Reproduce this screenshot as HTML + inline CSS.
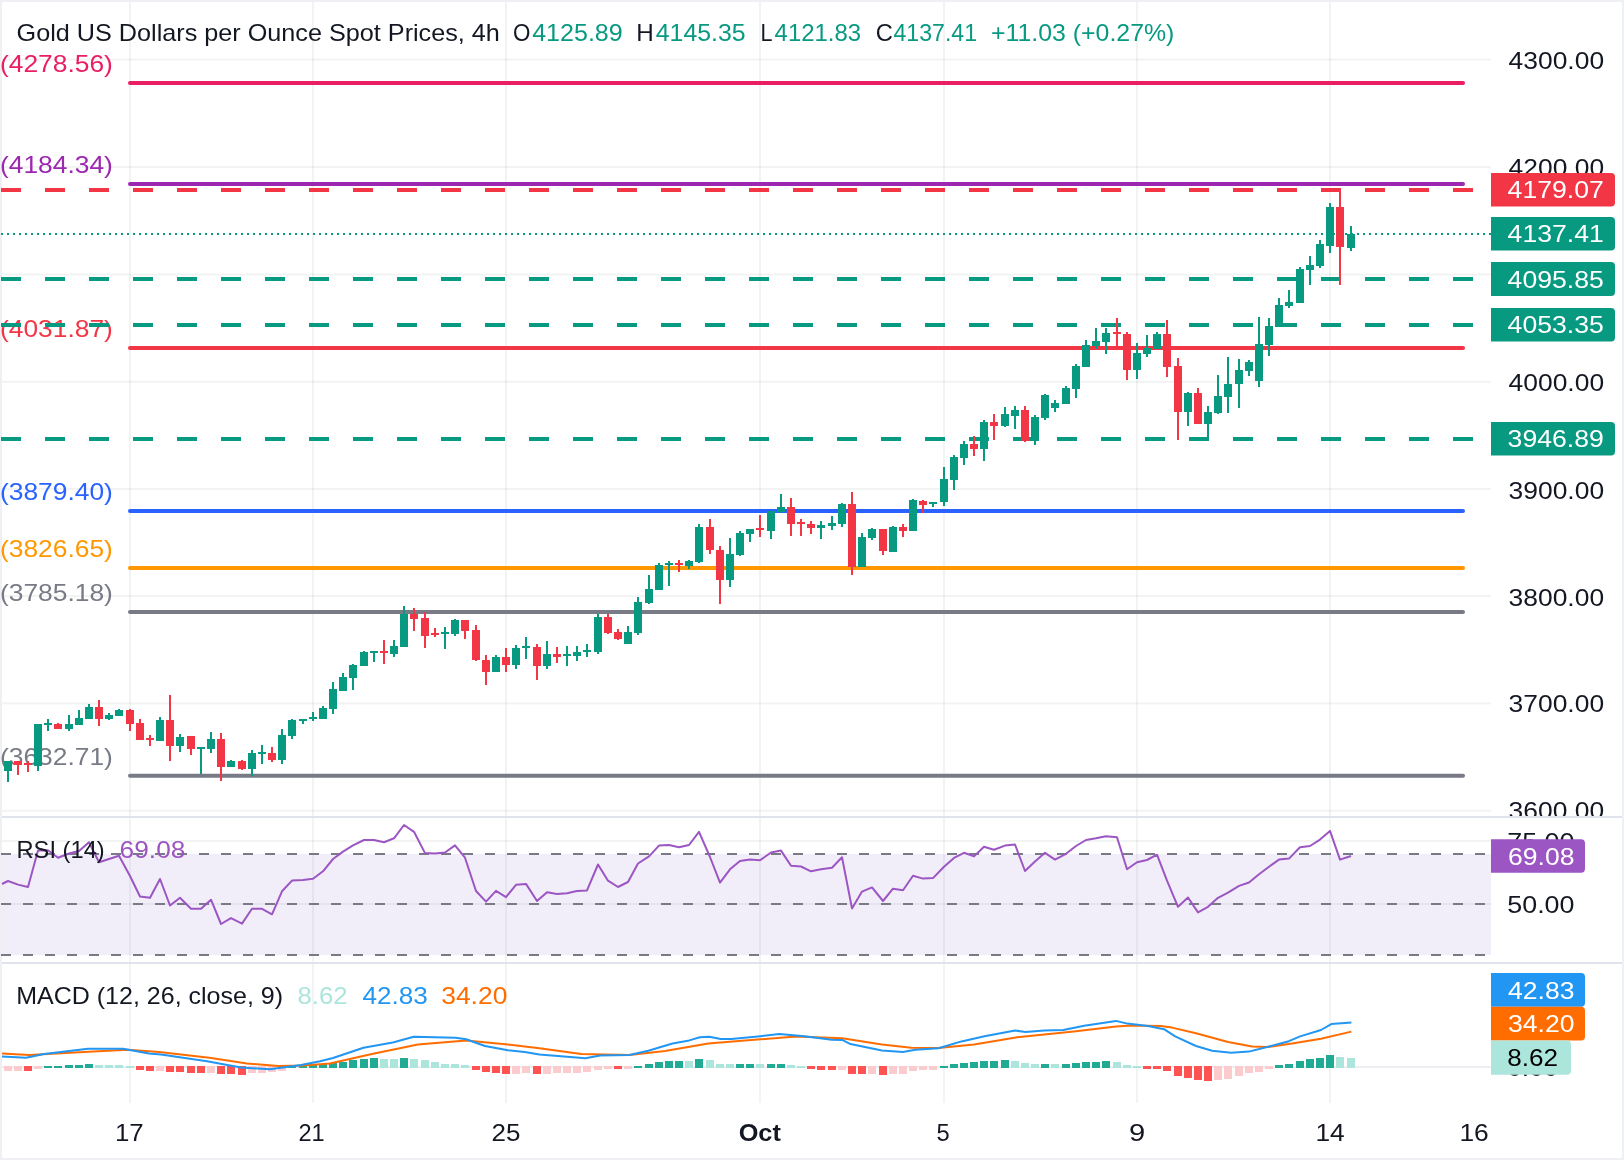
<!DOCTYPE html>
<html><head><meta charset="utf-8"><title>Gold chart</title>
<style>html,body{margin:0;padding:0;background:#fff;width:1624px;height:1160px;overflow:hidden;font-family:"Liberation Sans", sans-serif;}</style>
</head><body>
<svg width="1624" height="1160" viewBox="0 0 1624 1160" style="display:block;font-family:'Liberation Sans', sans-serif;will-change:transform"><rect x="0" y="0" width="1624" height="1160" fill="#eff0f4"/><rect x="2" y="2" width="1620" height="1156" fill="#ffffff"/><rect x="2" y="854" width="1489" height="101" fill="#f2eef9"/><rect x="129" y="2" width="2" height="1101" fill="rgba(42,46,57,0.06)"/><rect x="312" y="2" width="2" height="1101" fill="rgba(42,46,57,0.06)"/><rect x="505" y="2" width="2" height="1101" fill="rgba(42,46,57,0.06)"/><rect x="759" y="2" width="2" height="1101" fill="rgba(42,46,57,0.06)"/><rect x="943" y="2" width="2" height="1101" fill="rgba(42,46,57,0.06)"/><rect x="1136" y="2" width="2" height="1101" fill="rgba(42,46,57,0.06)"/><rect x="1329" y="2" width="2" height="1101" fill="rgba(42,46,57,0.06)"/><rect x="2" y="58.5" width="1489" height="2" fill="rgba(42,46,57,0.06)"/><rect x="2" y="166" width="1489" height="2" fill="rgba(42,46,57,0.06)"/><rect x="2" y="273.5" width="1489" height="2" fill="rgba(42,46,57,0.06)"/><rect x="2" y="380.8" width="1489" height="2" fill="rgba(42,46,57,0.06)"/><rect x="2" y="488" width="1489" height="2" fill="rgba(42,46,57,0.06)"/><rect x="2" y="595" width="1489" height="2" fill="rgba(42,46,57,0.06)"/><rect x="2" y="702.4" width="1489" height="2" fill="rgba(42,46,57,0.06)"/><rect x="2" y="809.8" width="1489" height="2" fill="rgba(42,46,57,0.06)"/><rect x="2" y="840" width="1489" height="2" fill="rgba(42,46,57,0.06)"/><rect x="2" y="903" width="1489" height="2" fill="rgba(42,46,57,0.06)"/><rect x="2" y="816" width="1620" height="2" fill="#e0e3eb"/><rect x="2" y="962" width="1620" height="2" fill="#e0e3eb"/><text x="-0.1" y="72.2" fill="#e91e63" font-size="24" textLength="113" lengthAdjust="spacingAndGlyphs">(4278.56)</text><text x="-0.1" y="173.2" fill="#9c27b0" font-size="24" textLength="113" lengthAdjust="spacingAndGlyphs">(4184.34)</text><text x="-0.1" y="336.9" fill="#f23645" font-size="24" textLength="113" lengthAdjust="spacingAndGlyphs">(4031.87)</text><text x="-0.1" y="499.8" fill="#2962ff" font-size="24" textLength="113" lengthAdjust="spacingAndGlyphs">(3879.40)</text><text x="-0.1" y="556.8" fill="#ff9800" font-size="24" textLength="113" lengthAdjust="spacingAndGlyphs">(3826.65)</text><text x="-0.1" y="600.9" fill="#787b86" font-size="24" textLength="113" lengthAdjust="spacingAndGlyphs">(3785.18)</text><text x="-0.1" y="764.6" fill="#787b86" font-size="24" textLength="113" lengthAdjust="spacingAndGlyphs">(3632.71)</text><line x1="130" y1="83" x2="1463" y2="83" stroke="#e91e63" stroke-width="4" stroke-linecap="round"/><line x1="130" y1="184" x2="1463" y2="184" stroke="#9c27b0" stroke-width="4" stroke-linecap="round"/><line x1="130" y1="348" x2="1463" y2="348" stroke="#f23645" stroke-width="4" stroke-linecap="round"/><line x1="130" y1="511" x2="1463" y2="511" stroke="#2962ff" stroke-width="4" stroke-linecap="round"/><line x1="130" y1="568" x2="1463" y2="568" stroke="#ff9800" stroke-width="4" stroke-linecap="round"/><line x1="130" y1="612" x2="1463" y2="612" stroke="#787b86" stroke-width="4" stroke-linecap="round"/><line x1="130" y1="775.8" x2="1463" y2="775.8" stroke="#787b86" stroke-width="4" stroke-linecap="round"/><clipPath id="chartclip"><rect x="0" y="0" width="1491" height="816"/></clipPath><g clip-path="url(#chartclip)"><line x1="1" y1="190" x2="1491" y2="190" stroke="#f23645" stroke-width="4" stroke-dasharray="20 24"/><line x1="1" y1="279" x2="1491" y2="279" stroke="#089981" stroke-width="4" stroke-dasharray="20 24"/><line x1="1" y1="325" x2="1491" y2="325" stroke="#089981" stroke-width="4" stroke-dasharray="20 24"/><line x1="1" y1="439" x2="1491" y2="439" stroke="#089981" stroke-width="4" stroke-dasharray="20 24"/><line x1="1" y1="234" x2="1491" y2="234" stroke="#089981" stroke-width="2" stroke-dasharray="2 4"/></g><rect x="7" y="761" width="2" height="21" fill="#089981"/><rect x="4" y="761" width="8" height="10" fill="#089981"/><rect x="17" y="761" width="2" height="14" fill="#f23645"/><rect x="14" y="761" width="8" height="4" fill="#f23645"/><rect x="27" y="761" width="2" height="11" fill="#f23645"/><rect x="24" y="763" width="8" height="2" fill="#f23645"/><rect x="37" y="724" width="2" height="47" fill="#089981"/><rect x="34" y="724" width="8" height="42" fill="#089981"/><rect x="47" y="719" width="2" height="12" fill="#089981"/><rect x="44" y="723" width="8" height="2" fill="#089981"/><rect x="57" y="723" width="2" height="6" fill="#f23645"/><rect x="54" y="724" width="8" height="5" fill="#f23645"/><rect x="68" y="715" width="2" height="16" fill="#089981"/><rect x="65" y="724" width="8" height="5" fill="#089981"/><rect x="78" y="710" width="2" height="15" fill="#089981"/><rect x="75" y="718" width="8" height="7" fill="#089981"/><rect x="88" y="704" width="2" height="15" fill="#089981"/><rect x="85" y="707" width="8" height="12" fill="#089981"/><rect x="98" y="700" width="2" height="26" fill="#f23645"/><rect x="95" y="707" width="8" height="12" fill="#f23645"/><rect x="108" y="713" width="2" height="7" fill="#089981"/><rect x="105" y="715" width="8" height="4" fill="#089981"/><rect x="118" y="709" width="2" height="7" fill="#089981"/><rect x="115" y="710" width="8" height="6" fill="#089981"/><rect x="129" y="709" width="2" height="22" fill="#f23645"/><rect x="126" y="710" width="8" height="14" fill="#f23645"/><rect x="139" y="719" width="2" height="21" fill="#f23645"/><rect x="136" y="723" width="8" height="17" fill="#f23645"/><rect x="149" y="735" width="2" height="11" fill="#f23645"/><rect x="146" y="738" width="8" height="2" fill="#f23645"/><rect x="159" y="717" width="2" height="24" fill="#089981"/><rect x="156" y="720" width="8" height="21" fill="#089981"/><rect x="169" y="695" width="2" height="66" fill="#f23645"/><rect x="166" y="720" width="8" height="26" fill="#f23645"/><rect x="179" y="734" width="2" height="18" fill="#089981"/><rect x="176" y="737" width="8" height="9" fill="#089981"/><rect x="190" y="736" width="2" height="19" fill="#f23645"/><rect x="187" y="736" width="8" height="13" fill="#f23645"/><rect x="200" y="747" width="2" height="27" fill="#089981"/><rect x="197" y="747" width="8" height="2" fill="#089981"/><rect x="210" y="732" width="2" height="21" fill="#089981"/><rect x="207" y="739" width="8" height="10" fill="#089981"/><rect x="220" y="733" width="2" height="48" fill="#f23645"/><rect x="217" y="739" width="8" height="28" fill="#f23645"/><rect x="230" y="760" width="2" height="7" fill="#089981"/><rect x="227" y="761" width="8" height="6" fill="#089981"/><rect x="241" y="760" width="2" height="10" fill="#f23645"/><rect x="238" y="761" width="8" height="8" fill="#f23645"/><rect x="251" y="750" width="2" height="26" fill="#089981"/><rect x="248" y="753" width="8" height="16" fill="#089981"/><rect x="261" y="745" width="2" height="19" fill="#089981"/><rect x="258" y="752" width="8" height="2" fill="#089981"/><rect x="271" y="747" width="2" height="15" fill="#f23645"/><rect x="268" y="753" width="8" height="7" fill="#f23645"/><rect x="281" y="729" width="2" height="35" fill="#089981"/><rect x="278" y="735" width="8" height="25" fill="#089981"/><rect x="291" y="719" width="2" height="20" fill="#089981"/><rect x="288" y="720" width="8" height="16" fill="#089981"/><rect x="302" y="719" width="2" height="5" fill="#089981"/><rect x="299" y="719" width="8" height="2" fill="#089981"/><rect x="312" y="712" width="2" height="9" fill="#089981"/><rect x="309" y="717" width="8" height="2" fill="#089981"/><rect x="322" y="706" width="2" height="13" fill="#089981"/><rect x="319" y="708" width="8" height="11" fill="#089981"/><rect x="332" y="682" width="2" height="32" fill="#089981"/><rect x="329" y="689" width="8" height="20" fill="#089981"/><rect x="342" y="673" width="2" height="18" fill="#089981"/><rect x="339" y="677" width="8" height="14" fill="#089981"/><rect x="352" y="664" width="2" height="26" fill="#089981"/><rect x="349" y="665" width="8" height="13" fill="#089981"/><rect x="363" y="651" width="2" height="15" fill="#089981"/><rect x="360" y="652" width="8" height="14" fill="#089981"/><rect x="373" y="651" width="2" height="11" fill="#089981"/><rect x="370" y="651" width="8" height="2" fill="#089981"/><rect x="383" y="640" width="2" height="24" fill="#f23645"/><rect x="380" y="651" width="8" height="2" fill="#f23645"/><rect x="393" y="640" width="2" height="17" fill="#089981"/><rect x="390" y="646" width="8" height="8" fill="#089981"/><rect x="403" y="606" width="2" height="41" fill="#089981"/><rect x="400" y="614" width="8" height="33" fill="#089981"/><rect x="413" y="608" width="2" height="23" fill="#f23645"/><rect x="410" y="614" width="8" height="5" fill="#f23645"/><rect x="424" y="612" width="2" height="36" fill="#f23645"/><rect x="421" y="618" width="8" height="18" fill="#f23645"/><rect x="434" y="628" width="2" height="9" fill="#f23645"/><rect x="431" y="633" width="8" height="2" fill="#f23645"/><rect x="444" y="627" width="2" height="22" fill="#089981"/><rect x="441" y="632" width="8" height="2" fill="#089981"/><rect x="454" y="619" width="2" height="17" fill="#089981"/><rect x="451" y="620" width="8" height="14" fill="#089981"/><rect x="464" y="620" width="2" height="19" fill="#f23645"/><rect x="461" y="620" width="8" height="11" fill="#f23645"/><rect x="475" y="625" width="2" height="36" fill="#f23645"/><rect x="472" y="630" width="8" height="30" fill="#f23645"/><rect x="485" y="655" width="2" height="30" fill="#f23645"/><rect x="482" y="660" width="8" height="12" fill="#f23645"/><rect x="495" y="655" width="2" height="17" fill="#089981"/><rect x="492" y="657" width="8" height="15" fill="#089981"/><rect x="505" y="648" width="2" height="24" fill="#f23645"/><rect x="502" y="657" width="8" height="8" fill="#f23645"/><rect x="515" y="645" width="2" height="24" fill="#089981"/><rect x="512" y="648" width="8" height="17" fill="#089981"/><rect x="525" y="637" width="2" height="22" fill="#089981"/><rect x="522" y="646" width="8" height="2" fill="#089981"/><rect x="536" y="644" width="2" height="36" fill="#f23645"/><rect x="533" y="647" width="8" height="19" fill="#f23645"/><rect x="546" y="641" width="2" height="28" fill="#089981"/><rect x="543" y="654" width="8" height="12" fill="#089981"/><rect x="556" y="647" width="2" height="16" fill="#f23645"/><rect x="553" y="654" width="8" height="3" fill="#f23645"/><rect x="566" y="646" width="2" height="20" fill="#089981"/><rect x="563" y="654" width="8" height="2" fill="#089981"/><rect x="576" y="646" width="2" height="15" fill="#089981"/><rect x="573" y="652" width="8" height="4" fill="#089981"/><rect x="586" y="644" width="2" height="13" fill="#089981"/><rect x="583" y="650" width="8" height="2" fill="#089981"/><rect x="597" y="614" width="2" height="40" fill="#089981"/><rect x="594" y="617" width="8" height="35" fill="#089981"/><rect x="607" y="614" width="2" height="20" fill="#f23645"/><rect x="604" y="617" width="8" height="16" fill="#f23645"/><rect x="617" y="629" width="2" height="11" fill="#f23645"/><rect x="614" y="632" width="8" height="7" fill="#f23645"/><rect x="627" y="626" width="2" height="18" fill="#089981"/><rect x="624" y="632" width="8" height="12" fill="#089981"/><rect x="637" y="597" width="2" height="38" fill="#089981"/><rect x="634" y="602" width="8" height="31" fill="#089981"/><rect x="648" y="575" width="2" height="29" fill="#089981"/><rect x="645" y="589" width="8" height="14" fill="#089981"/><rect x="658" y="563" width="2" height="27" fill="#089981"/><rect x="655" y="565" width="8" height="25" fill="#089981"/><rect x="668" y="561" width="2" height="25" fill="#089981"/><rect x="665" y="563" width="8" height="2" fill="#089981"/><rect x="678" y="560" width="2" height="12" fill="#f23645"/><rect x="675" y="563" width="8" height="2" fill="#f23645"/><rect x="688" y="560" width="2" height="9" fill="#089981"/><rect x="685" y="561" width="8" height="5" fill="#089981"/><rect x="698" y="524" width="2" height="39" fill="#089981"/><rect x="695" y="527" width="8" height="35" fill="#089981"/><rect x="709" y="519" width="2" height="35" fill="#f23645"/><rect x="706" y="527" width="8" height="23" fill="#f23645"/><rect x="719" y="546" width="2" height="58" fill="#f23645"/><rect x="716" y="550" width="8" height="30" fill="#f23645"/><rect x="729" y="538" width="2" height="49" fill="#089981"/><rect x="726" y="554" width="8" height="26" fill="#089981"/><rect x="739" y="531" width="2" height="25" fill="#089981"/><rect x="736" y="533" width="8" height="22" fill="#089981"/><rect x="749" y="529" width="2" height="13" fill="#089981"/><rect x="746" y="529" width="8" height="5" fill="#089981"/><rect x="759" y="515" width="2" height="22" fill="#f23645"/><rect x="756" y="528" width="8" height="2" fill="#f23645"/><rect x="770" y="511" width="2" height="28" fill="#089981"/><rect x="767" y="511" width="8" height="20" fill="#089981"/><rect x="780" y="494" width="2" height="19" fill="#089981"/><rect x="777" y="507" width="8" height="5" fill="#089981"/><rect x="790" y="498" width="2" height="38" fill="#f23645"/><rect x="787" y="507" width="8" height="17" fill="#f23645"/><rect x="800" y="519" width="2" height="17" fill="#f23645"/><rect x="797" y="522" width="8" height="2" fill="#f23645"/><rect x="810" y="521" width="2" height="13" fill="#f23645"/><rect x="807" y="524" width="8" height="4" fill="#f23645"/><rect x="820" y="521" width="2" height="18" fill="#089981"/><rect x="817" y="525" width="8" height="3" fill="#089981"/><rect x="831" y="516" width="2" height="14" fill="#089981"/><rect x="828" y="523" width="8" height="3" fill="#089981"/><rect x="841" y="503" width="2" height="24" fill="#089981"/><rect x="838" y="504" width="8" height="20" fill="#089981"/><rect x="851" y="492" width="2" height="83" fill="#f23645"/><rect x="848" y="504" width="8" height="63" fill="#f23645"/><rect x="861" y="533" width="2" height="34" fill="#089981"/><rect x="858" y="537" width="8" height="30" fill="#089981"/><rect x="871" y="528" width="2" height="12" fill="#089981"/><rect x="868" y="529" width="8" height="9" fill="#089981"/><rect x="882" y="529" width="2" height="26" fill="#f23645"/><rect x="879" y="529" width="8" height="22" fill="#f23645"/><rect x="892" y="526" width="2" height="26" fill="#089981"/><rect x="889" y="527" width="8" height="25" fill="#089981"/><rect x="902" y="524" width="2" height="13" fill="#f23645"/><rect x="899" y="527" width="8" height="4" fill="#f23645"/><rect x="912" y="499" width="2" height="32" fill="#089981"/><rect x="909" y="500" width="8" height="31" fill="#089981"/><rect x="922" y="500" width="2" height="13" fill="#f23645"/><rect x="919" y="501" width="8" height="4" fill="#f23645"/><rect x="932" y="502" width="2" height="5" fill="#089981"/><rect x="929" y="502" width="8" height="2" fill="#089981"/><rect x="943" y="467" width="2" height="39" fill="#089981"/><rect x="940" y="479" width="8" height="23" fill="#089981"/><rect x="953" y="455" width="2" height="35" fill="#089981"/><rect x="950" y="457" width="8" height="23" fill="#089981"/><rect x="963" y="441" width="2" height="24" fill="#089981"/><rect x="960" y="444" width="8" height="14" fill="#089981"/><rect x="973" y="436" width="2" height="20" fill="#f23645"/><rect x="970" y="444" width="8" height="5" fill="#f23645"/><rect x="983" y="420" width="2" height="41" fill="#089981"/><rect x="980" y="422" width="8" height="27" fill="#089981"/><rect x="993" y="414" width="2" height="26" fill="#f23645"/><rect x="990" y="422" width="8" height="4" fill="#f23645"/><rect x="1004" y="407" width="2" height="20" fill="#089981"/><rect x="1001" y="414" width="8" height="12" fill="#089981"/><rect x="1014" y="406" width="2" height="23" fill="#089981"/><rect x="1011" y="410" width="8" height="6" fill="#089981"/><rect x="1024" y="406" width="2" height="36" fill="#f23645"/><rect x="1021" y="410" width="8" height="31" fill="#f23645"/><rect x="1034" y="415" width="2" height="30" fill="#089981"/><rect x="1031" y="417" width="8" height="24" fill="#089981"/><rect x="1044" y="394" width="2" height="26" fill="#089981"/><rect x="1041" y="395" width="8" height="23" fill="#089981"/><rect x="1054" y="400" width="2" height="12" fill="#089981"/><rect x="1051" y="403" width="8" height="5" fill="#089981"/><rect x="1065" y="386" width="2" height="18" fill="#089981"/><rect x="1062" y="388" width="8" height="16" fill="#089981"/><rect x="1075" y="364" width="2" height="34" fill="#089981"/><rect x="1072" y="366" width="8" height="23" fill="#089981"/><rect x="1085" y="340" width="2" height="27" fill="#089981"/><rect x="1082" y="345" width="8" height="22" fill="#089981"/><rect x="1095" y="328" width="2" height="21" fill="#089981"/><rect x="1092" y="341" width="8" height="5" fill="#089981"/><rect x="1105" y="328" width="2" height="26" fill="#089981"/><rect x="1102" y="333" width="8" height="9" fill="#089981"/><rect x="1116" y="318" width="2" height="28" fill="#f23645"/><rect x="1113" y="332" width="8" height="2" fill="#f23645"/><rect x="1126" y="332" width="2" height="48" fill="#f23645"/><rect x="1123" y="334" width="8" height="36" fill="#f23645"/><rect x="1136" y="343" width="2" height="36" fill="#089981"/><rect x="1133" y="353" width="8" height="17" fill="#089981"/><rect x="1146" y="335" width="2" height="22" fill="#089981"/><rect x="1143" y="348" width="8" height="6" fill="#089981"/><rect x="1156" y="332" width="2" height="17" fill="#089981"/><rect x="1153" y="334" width="8" height="15" fill="#089981"/><rect x="1166" y="320" width="2" height="57" fill="#f23645"/><rect x="1163" y="334" width="8" height="33" fill="#f23645"/><rect x="1177" y="358" width="2" height="82" fill="#f23645"/><rect x="1174" y="366" width="8" height="46" fill="#f23645"/><rect x="1187" y="392" width="2" height="34" fill="#089981"/><rect x="1184" y="393" width="8" height="19" fill="#089981"/><rect x="1197" y="388" width="2" height="36" fill="#f23645"/><rect x="1194" y="393" width="8" height="31" fill="#f23645"/><rect x="1207" y="406" width="2" height="34" fill="#089981"/><rect x="1204" y="412" width="8" height="12" fill="#089981"/><rect x="1217" y="375" width="2" height="39" fill="#089981"/><rect x="1214" y="396" width="8" height="17" fill="#089981"/><rect x="1227" y="357" width="2" height="56" fill="#089981"/><rect x="1224" y="384" width="8" height="13" fill="#089981"/><rect x="1238" y="359" width="2" height="49" fill="#089981"/><rect x="1235" y="370" width="8" height="14" fill="#089981"/><rect x="1248" y="360" width="2" height="16" fill="#089981"/><rect x="1245" y="362" width="8" height="9" fill="#089981"/><rect x="1258" y="317" width="2" height="70" fill="#089981"/><rect x="1255" y="344" width="8" height="37" fill="#089981"/><rect x="1268" y="318" width="2" height="38" fill="#089981"/><rect x="1265" y="326" width="8" height="19" fill="#089981"/><rect x="1278" y="298" width="2" height="29" fill="#089981"/><rect x="1275" y="305" width="8" height="22" fill="#089981"/><rect x="1288" y="290" width="2" height="18" fill="#089981"/><rect x="1285" y="302" width="8" height="4" fill="#089981"/><rect x="1299" y="267" width="2" height="36" fill="#089981"/><rect x="1296" y="269" width="8" height="34" fill="#089981"/><rect x="1309" y="256" width="2" height="29" fill="#089981"/><rect x="1306" y="265" width="8" height="5" fill="#089981"/><rect x="1319" y="240" width="2" height="28" fill="#089981"/><rect x="1316" y="244" width="8" height="22" fill="#089981"/><rect x="1329" y="203" width="2" height="50" fill="#089981"/><rect x="1326" y="207" width="8" height="39" fill="#089981"/><rect x="1339" y="188" width="2" height="97" fill="#f23645"/><rect x="1336" y="207" width="8" height="40" fill="#f23645"/><rect x="1350" y="226" width="2" height="25" fill="#089981"/><rect x="1347" y="234" width="8" height="14" fill="#089981"/><clipPath id="rsiclip"><rect x="0" y="818" width="1491" height="144"/></clipPath><g clip-path="url(#rsiclip)"><line x1="1" y1="854" x2="1491" y2="854" stroke="#787b86" stroke-width="2" stroke-dasharray="10 12"/><line x1="1" y1="904" x2="1491" y2="904" stroke="#787b86" stroke-width="2" stroke-dasharray="10 12"/><line x1="1" y1="955" x2="1491" y2="955" stroke="#787b86" stroke-width="2" stroke-dasharray="10 12"/></g><polyline points="2,884 8,881 18,884.6 28,887 38,850.6 48,850.2 58,857.7 69,853.5 79,851 89,842.2 99,862.2 109,859 119,855.7 130,876 140,896.5 150,897.8 160,879 170,905.5 180,897.8 191,908.8 201,908.8 211,899.7 221,924 231,918.1 242,923.6 252,908.8 262,908.8 272,914.3 282,891.3 292,880.6 303,880 313,878.8 323,871.3 333,859 343,851.6 353,845.4 364,840 374,840 384,842.2 394,838.3 404,825 414,831.8 425,853.1 435,853.5 445,852.5 455,845.4 465,857.7 476,891 486,901.6 496,890.9 506,897.1 516,884.8 526,883.9 537,901 547,892.3 557,894.1 567,893.2 577,891 587,890.4 598,864.5 608,880.7 618,887 628,882 638,863.5 649,856.4 659,845.6 669,845.1 679,847.3 689,845 699,831.8 710,857 720,882.6 730,869.3 740,860.9 750,859.6 760,860.3 771,852.5 781,850.6 791,865.8 801,866.5 811,871.3 821,869.3 832,867.8 842,857.3 852,908.4 862,891.6 872,887.4 883,901 893,888.7 903,890.3 913,875.8 923,878.6 933,878.1 944,866.7 954,857.9 964,852.8 974,856.4 984,846.7 994,849.7 1005,845.6 1015,844.5 1025,871 1035,861.6 1045,852.8 1055,859.6 1066,853.8 1076,846 1086,840 1096,838.3 1106,836.3 1117,837.2 1127,869.3 1137,862.2 1147,860 1157,854.7 1167,880.7 1178,906.8 1188,897.5 1198,912.4 1208,906.8 1218,897.8 1228,892.6 1239,885.9 1249,882.5 1259,874.2 1269,866.7 1279,859.6 1289,858.6 1300,847.3 1310,846 1320,839.6 1330,830.9 1340,859.6 1351,856" fill="none" stroke="#9c56c3" stroke-width="2" stroke-linejoin="round"/><rect x="2" y="1066" width="1489" height="2" fill="#eceef2"/><rect x="4" y="1066" width="8" height="5" fill="#fccbcd"/><rect x="14" y="1066" width="8" height="5" fill="#fccbcd"/><rect x="24" y="1066" width="8" height="5" fill="#ff5252"/><rect x="34" y="1066" width="8" height="3" fill="#fccbcd"/><rect x="44" y="1066" width="8" height="2" fill="#22ab94"/><rect x="54" y="1066" width="8" height="2" fill="#22ab94"/><rect x="65" y="1065" width="8" height="3" fill="#22ab94"/><rect x="75" y="1065" width="8" height="3" fill="#22ab94"/><rect x="85" y="1064" width="8" height="4" fill="#22ab94"/><rect x="95" y="1065" width="8" height="3" fill="#ace5dc"/><rect x="105" y="1065" width="8" height="3" fill="#ace5dc"/><rect x="115" y="1065" width="8" height="3" fill="#ace5dc"/><rect x="126" y="1066" width="8" height="2" fill="#ace5dc"/><rect x="136" y="1066" width="8" height="4" fill="#ff5252"/><rect x="146" y="1066" width="8" height="5" fill="#ff5252"/><rect x="156" y="1066" width="8" height="5" fill="#fccbcd"/><rect x="166" y="1066" width="8" height="6" fill="#ff5252"/><rect x="176" y="1066" width="8" height="6" fill="#ff5252"/><rect x="187" y="1066" width="8" height="7" fill="#ff5252"/><rect x="197" y="1066" width="8" height="7" fill="#ff5252"/><rect x="207" y="1066" width="8" height="7" fill="#fccbcd"/><rect x="217" y="1066" width="8" height="8" fill="#ff5252"/><rect x="227" y="1066" width="8" height="8" fill="#ff5252"/><rect x="238" y="1066" width="8" height="9" fill="#ff5252"/><rect x="248" y="1066" width="8" height="7" fill="#fccbcd"/><rect x="258" y="1066" width="8" height="7" fill="#fccbcd"/><rect x="268" y="1066" width="8" height="6" fill="#fccbcd"/><rect x="278" y="1066" width="8" height="5" fill="#fccbcd"/><rect x="288" y="1066" width="8" height="2" fill="#22ab94"/><rect x="299" y="1066" width="8" height="2" fill="#22ab94"/><rect x="309" y="1065" width="8" height="3" fill="#22ab94"/><rect x="319" y="1064" width="8" height="4" fill="#22ab94"/><rect x="329" y="1063" width="8" height="5" fill="#22ab94"/><rect x="339" y="1062" width="8" height="6" fill="#22ab94"/><rect x="349" y="1060" width="8" height="8" fill="#22ab94"/><rect x="360" y="1059" width="8" height="9" fill="#22ab94"/><rect x="370" y="1058" width="8" height="10" fill="#22ab94"/><rect x="380" y="1059" width="8" height="9" fill="#ace5dc"/><rect x="390" y="1059" width="8" height="9" fill="#ace5dc"/><rect x="400" y="1058" width="8" height="10" fill="#22ab94"/><rect x="410" y="1059" width="8" height="9" fill="#ace5dc"/><rect x="421" y="1060" width="8" height="8" fill="#ace5dc"/><rect x="431" y="1062" width="8" height="6" fill="#ace5dc"/><rect x="441" y="1064" width="8" height="4" fill="#ace5dc"/><rect x="451" y="1064" width="8" height="4" fill="#ace5dc"/><rect x="461" y="1065" width="8" height="3" fill="#ace5dc"/><rect x="472" y="1066" width="8" height="4" fill="#ff5252"/><rect x="482" y="1066" width="8" height="6" fill="#ff5252"/><rect x="492" y="1066" width="8" height="7" fill="#ff5252"/><rect x="502" y="1066" width="8" height="8" fill="#ff5252"/><rect x="512" y="1066" width="8" height="8" fill="#fccbcd"/><rect x="522" y="1066" width="8" height="7" fill="#fccbcd"/><rect x="533" y="1066" width="8" height="8" fill="#ff5252"/><rect x="543" y="1066" width="8" height="8" fill="#fccbcd"/><rect x="553" y="1066" width="8" height="7" fill="#fccbcd"/><rect x="563" y="1066" width="8" height="7" fill="#fccbcd"/><rect x="573" y="1066" width="8" height="7" fill="#fccbcd"/><rect x="583" y="1066" width="8" height="6" fill="#fccbcd"/><rect x="594" y="1066" width="8" height="4" fill="#fccbcd"/><rect x="604" y="1066" width="8" height="3" fill="#fccbcd"/><rect x="614" y="1066" width="8" height="3" fill="#ff5252"/><rect x="624" y="1066" width="8" height="3" fill="#fccbcd"/><rect x="634" y="1066" width="8" height="2" fill="#22ab94"/><rect x="645" y="1064" width="8" height="4" fill="#22ab94"/><rect x="655" y="1062" width="8" height="6" fill="#22ab94"/><rect x="665" y="1061" width="8" height="7" fill="#22ab94"/><rect x="675" y="1061" width="8" height="7" fill="#22ab94"/><rect x="685" y="1061" width="8" height="7" fill="#ace5dc"/><rect x="695" y="1059" width="8" height="9" fill="#22ab94"/><rect x="706" y="1060" width="8" height="8" fill="#ace5dc"/><rect x="716" y="1064" width="8" height="4" fill="#ace5dc"/><rect x="726" y="1064" width="8" height="4" fill="#ace5dc"/><rect x="736" y="1064" width="8" height="4" fill="#22ab94"/><rect x="746" y="1064" width="8" height="4" fill="#22ab94"/><rect x="756" y="1064" width="8" height="4" fill="#ace5dc"/><rect x="767" y="1064" width="8" height="4" fill="#22ab94"/><rect x="777" y="1064" width="8" height="4" fill="#22ab94"/><rect x="787" y="1065" width="8" height="3" fill="#ace5dc"/><rect x="797" y="1066" width="8" height="2" fill="#ace5dc"/><rect x="807" y="1066" width="8" height="3" fill="#ff5252"/><rect x="817" y="1066" width="8" height="4" fill="#ff5252"/><rect x="828" y="1066" width="8" height="4" fill="#ff5252"/><rect x="838" y="1066" width="8" height="4" fill="#fccbcd"/><rect x="848" y="1066" width="8" height="8" fill="#ff5252"/><rect x="858" y="1066" width="8" height="8" fill="#ff5252"/><rect x="868" y="1066" width="8" height="8" fill="#fccbcd"/><rect x="879" y="1066" width="8" height="9" fill="#ff5252"/><rect x="889" y="1066" width="8" height="8" fill="#fccbcd"/><rect x="899" y="1066" width="8" height="8" fill="#fccbcd"/><rect x="909" y="1066" width="8" height="5" fill="#fccbcd"/><rect x="919" y="1066" width="8" height="4" fill="#fccbcd"/><rect x="929" y="1066" width="8" height="4" fill="#fccbcd"/><rect x="940" y="1066" width="8" height="2" fill="#22ab94"/><rect x="950" y="1064" width="8" height="4" fill="#22ab94"/><rect x="960" y="1063" width="8" height="5" fill="#22ab94"/><rect x="970" y="1062" width="8" height="6" fill="#22ab94"/><rect x="980" y="1061" width="8" height="7" fill="#22ab94"/><rect x="990" y="1061" width="8" height="7" fill="#22ab94"/><rect x="1001" y="1060" width="8" height="8" fill="#22ab94"/><rect x="1011" y="1061" width="8" height="7" fill="#ace5dc"/><rect x="1021" y="1063" width="8" height="5" fill="#ace5dc"/><rect x="1031" y="1064" width="8" height="4" fill="#ace5dc"/><rect x="1041" y="1064" width="8" height="4" fill="#22ab94"/><rect x="1051" y="1064" width="8" height="4" fill="#ace5dc"/><rect x="1062" y="1064" width="8" height="4" fill="#22ab94"/><rect x="1072" y="1063" width="8" height="5" fill="#22ab94"/><rect x="1082" y="1062" width="8" height="6" fill="#22ab94"/><rect x="1092" y="1062" width="8" height="6" fill="#22ab94"/><rect x="1102" y="1061" width="8" height="7" fill="#22ab94"/><rect x="1113" y="1062" width="8" height="6" fill="#ace5dc"/><rect x="1123" y="1065" width="8" height="3" fill="#ace5dc"/><rect x="1133" y="1066" width="8" height="2" fill="#ace5dc"/><rect x="1143" y="1066" width="8" height="3" fill="#ff5252"/><rect x="1153" y="1066" width="8" height="3" fill="#ff5252"/><rect x="1163" y="1066" width="8" height="5" fill="#ff5252"/><rect x="1174" y="1066" width="8" height="10" fill="#ff5252"/><rect x="1184" y="1066" width="8" height="12" fill="#ff5252"/><rect x="1194" y="1066" width="8" height="14" fill="#ff5252"/><rect x="1204" y="1066" width="8" height="15" fill="#ff5252"/><rect x="1214" y="1066" width="8" height="14" fill="#fccbcd"/><rect x="1224" y="1066" width="8" height="13" fill="#fccbcd"/><rect x="1235" y="1066" width="8" height="10" fill="#fccbcd"/><rect x="1245" y="1066" width="8" height="7" fill="#fccbcd"/><rect x="1255" y="1066" width="8" height="6" fill="#fccbcd"/><rect x="1265" y="1066" width="8" height="3" fill="#fccbcd"/><rect x="1275" y="1065" width="8" height="3" fill="#22ab94"/><rect x="1285" y="1064" width="8" height="4" fill="#22ab94"/><rect x="1296" y="1061" width="8" height="7" fill="#22ab94"/><rect x="1306" y="1059" width="8" height="9" fill="#22ab94"/><rect x="1316" y="1058" width="8" height="10" fill="#22ab94"/><rect x="1326" y="1055" width="8" height="13" fill="#22ab94"/><rect x="1336" y="1057" width="8" height="11" fill="#ace5dc"/><rect x="1347" y="1058" width="8" height="10" fill="#ace5dc"/><polyline points="2,1053.6 29.3,1055 83.8,1051.9 127.7,1049.8 159.1,1051.9 209.4,1057.7 247,1063.4 278.5,1066.1 303.6,1065.5 330,1063.4 371.9,1054 417.9,1044.5 466.1,1040.4 508,1044.5 539.4,1048.3 581.3,1054 629.4,1055 665,1051 708.2,1043.5 760.5,1039.3 796.1,1036.6 842.2,1038.3 881.9,1044.5 911.3,1047.7 938.5,1048.1 974,1044.5 995,1041 1017.2,1037.2 1073.8,1031.6 1116,1026.5 1132,1025.5 1160.8,1026 1172,1027.6 1196,1033.2 1228.1,1042 1252.1,1046.5 1268.1,1047.1 1292.1,1043.6 1321,1038.8 1351.4,1031.6" fill="none" stroke="#ff6d00" stroke-width="2" stroke-linejoin="round"/><polyline points="2,1056.5 26,1057.7 44,1054 88,1048.7 123,1048.7 149,1053.6 161,1054.4 207,1061.3 241,1067.6 270,1069.3 301,1064.9 320,1061.3 333,1058 363.5,1047.7 392.8,1042.5 413.8,1036.8 455.6,1037.8 466.1,1039.3 485,1046 508,1050.2 524.7,1051.9 539.4,1054.4 585.4,1058.2 600.1,1055.6 629.4,1055 648.3,1050.8 660,1047.3 672.6,1043.5 689.3,1040.4 699.8,1037.2 709.2,1036.8 720.7,1038.9 731.2,1038.9 760.5,1036.2 779.3,1034.1 804.5,1036.2 831.7,1039.7 842.2,1039.9 850.5,1044.1 881.9,1050.4 902.9,1051.9 915.4,1049.8 938.5,1048.3 961.5,1041.4 984.5,1036.2 1015.1,1030.5 1025.6,1032 1044.4,1030.5 1063.3,1029.9 1084.2,1025.7 1116,1020.9 1127.2,1023.6 1148,1026 1164,1029.2 1175.2,1036.4 1196,1046 1212.1,1050.8 1231.3,1052.7 1248.9,1051.6 1268.1,1046.8 1288.9,1041.2 1300.1,1036.4 1321,1030 1331.3,1024.1 1351.4,1022.5" fill="none" stroke="#2196f3" stroke-width="2" stroke-linejoin="round"/><text x="1508.6" y="68.6" fill="#131722" font-size="24" textLength="95.5" lengthAdjust="spacingAndGlyphs">4300.00</text><text x="1508.6" y="175.6" fill="#131722" font-size="24" textLength="95.5" lengthAdjust="spacingAndGlyphs">4200.00</text><text x="1508.6" y="390.6" fill="#131722" font-size="24" textLength="95.5" lengthAdjust="spacingAndGlyphs">4000.00</text><text x="1508.6" y="498.5" fill="#131722" font-size="24" textLength="95.5" lengthAdjust="spacingAndGlyphs">3900.00</text><text x="1508.6" y="605.6" fill="#131722" font-size="24" textLength="95.5" lengthAdjust="spacingAndGlyphs">3800.00</text><text x="1508.6" y="712.0" fill="#131722" font-size="24" textLength="95.5" lengthAdjust="spacingAndGlyphs">3700.00</text><clipPath id="axclip"><rect x="1491" y="0" width="131" height="816"/></clipPath><g clip-path="url(#axclip)"><text x="1508.6" y="819.4" fill="#131722" font-size="24" textLength="95.5" lengthAdjust="spacingAndGlyphs">3600.00</text></g><text x="1507.3" y="849.6" fill="#131722" font-size="24" textLength="67.2" lengthAdjust="spacingAndGlyphs">75.00</text><text x="1507.3" y="913.1" fill="#131722" font-size="24" textLength="67.2" lengthAdjust="spacingAndGlyphs">50.00</text><text x="1507.2" y="1075.6" fill="#131722" font-size="24" textLength="50.8" lengthAdjust="spacingAndGlyphs">0.00</text><path d="M1491,173 H1611 Q1615,173 1615,177 V202.5 Q1615,206.5 1611,206.5 H1491 Z" fill="#f23645"/><text x="1507.6" y="198.3" fill="#ffffff" font-size="24" textLength="96.2" lengthAdjust="spacingAndGlyphs">4179.07</text><path d="M1491,217 H1611 Q1615,217 1615,221 V246.5 Q1615,250.5 1611,250.5 H1491 Z" fill="#089981"/><text x="1507.6" y="242.3" fill="#ffffff" font-size="24" textLength="96.2" lengthAdjust="spacingAndGlyphs">4137.41</text><path d="M1491,262 H1611 Q1615,262 1615,266 V292 Q1615,296 1611,296 H1491 Z" fill="#089981"/><text x="1507.6" y="287.6" fill="#ffffff" font-size="24" textLength="96.2" lengthAdjust="spacingAndGlyphs">4095.85</text><path d="M1491,308 H1611 Q1615,308 1615,312 V337.6 Q1615,341.6 1611,341.6 H1491 Z" fill="#089981"/><text x="1507.6" y="333.4" fill="#ffffff" font-size="24" textLength="96.2" lengthAdjust="spacingAndGlyphs">4053.35</text><path d="M1491,422 H1611 Q1615,422 1615,426 V451.6 Q1615,455.6 1611,455.6 H1491 Z" fill="#089981"/><text x="1507.6" y="447.4" fill="#ffffff" font-size="24" textLength="96.2" lengthAdjust="spacingAndGlyphs">3946.89</text><path d="M1491,839.3 H1581 Q1585,839.3 1585,843.3 V868.8 Q1585,872.8 1581,872.8 H1491 Z" fill="#9c56c3"/><text x="1508" y="864.6" fill="#ffffff" font-size="24" textLength="66.4" lengthAdjust="spacingAndGlyphs">69.08</text><path d="M1491,973 H1581 Q1585,973 1585,977 V1002.8 Q1585,1006.8 1581,1006.8 H1491 Z" fill="#2196f3"/><text x="1508" y="998.5" fill="#ffffff" font-size="24" textLength="66.4" lengthAdjust="spacingAndGlyphs">42.83</text><path d="M1491,1006.8 H1581 Q1585,1006.8 1585,1010.8 V1036.6 Q1585,1040.6 1581,1040.6 H1491 Z" fill="#ff6d00"/><text x="1508" y="1032.3" fill="#ffffff" font-size="24" textLength="66.4" lengthAdjust="spacingAndGlyphs">34.20</text><path d="M1491,1040.6 H1567 Q1571,1040.6 1571,1044.6 V1070.7 Q1571,1074.7 1567,1074.7 H1491 Z" fill="#ace5dc"/><text x="1507.2" y="1066.2" fill="#000000" font-size="24" textLength="50.8" lengthAdjust="spacingAndGlyphs">8.62</text><text x="16.6" y="41" fill="#131722" font-size="24" textLength="483.3" lengthAdjust="spacingAndGlyphs">Gold US Dollars per Ounce Spot Prices, 4h</text><text x="513.1" y="41" fill="#131722" font-size="24" textLength="17.4" lengthAdjust="spacingAndGlyphs">O</text><text x="532.2" y="41" fill="#089981" font-size="24" textLength="90.5" lengthAdjust="spacingAndGlyphs">4125.89</text><text x="636.3" y="41" fill="#131722" font-size="24" textLength="17.5" lengthAdjust="spacingAndGlyphs">H</text><text x="655.8" y="41" fill="#089981" font-size="24" textLength="89.7" lengthAdjust="spacingAndGlyphs">4145.35</text><text x="760.4" y="41" fill="#131722" font-size="24" textLength="12.0" lengthAdjust="spacingAndGlyphs">L</text><text x="774.6" y="41" fill="#089981" font-size="24" textLength="86.5" lengthAdjust="spacingAndGlyphs">4121.83</text><text x="875.7" y="41" fill="#131722" font-size="24" textLength="17.1" lengthAdjust="spacingAndGlyphs">C</text><text x="893.5" y="41" fill="#089981" font-size="24" textLength="83.5" lengthAdjust="spacingAndGlyphs">4137.41</text><text x="991.0" y="41" fill="#089981" font-size="24" textLength="183.4" lengthAdjust="spacingAndGlyphs">+11.03 (+0.27%)</text><text x="16.5" y="857.5" fill="#131722" font-size="24" textLength="88.2" lengthAdjust="spacingAndGlyphs">RSI (14)</text><text x="119.6" y="857.5" fill="#9c56c3" font-size="24" textLength="65.8" lengthAdjust="spacingAndGlyphs">69.08</text><text x="16.2" y="1004" fill="#131722" font-size="24" textLength="266.9" lengthAdjust="spacingAndGlyphs">MACD (12, 26, close, 9)</text><text x="297.5" y="1004" fill="#ace5dc" font-size="24" textLength="50.1" lengthAdjust="spacingAndGlyphs">8.62</text><text x="362.5" y="1004" fill="#2196f3" font-size="24" textLength="65.4" lengthAdjust="spacingAndGlyphs">42.83</text><text x="441.2" y="1004" fill="#ff6d00" font-size="24" textLength="66.2" lengthAdjust="spacingAndGlyphs">34.20</text><text x="115.0" y="1141" fill="#131722" font-size="24" textLength="28.7" lengthAdjust="spacingAndGlyphs">17</text><text x="298.5" y="1141" fill="#131722" font-size="24" textLength="26.2" lengthAdjust="spacingAndGlyphs">21</text><text x="491.5" y="1141" fill="#131722" font-size="24" textLength="28.9" lengthAdjust="spacingAndGlyphs">25</text><text x="936.6" y="1141" fill="#131722" font-size="24" textLength="13.2" lengthAdjust="spacingAndGlyphs">5</text><text x="1129.0" y="1141" fill="#131722" font-size="24" textLength="16.2" lengthAdjust="spacingAndGlyphs">9</text><text x="1315.4" y="1141" fill="#131722" font-size="24" textLength="29.3" lengthAdjust="spacingAndGlyphs">14</text><text x="1459.4" y="1141" fill="#131722" font-size="24" textLength="29.4" lengthAdjust="spacingAndGlyphs">16</text><text x="738.7" y="1141" fill="#131722" font-size="24" textLength="42.2" lengthAdjust="spacingAndGlyphs" font-weight="bold">Oct</text></svg>
</body></html>
